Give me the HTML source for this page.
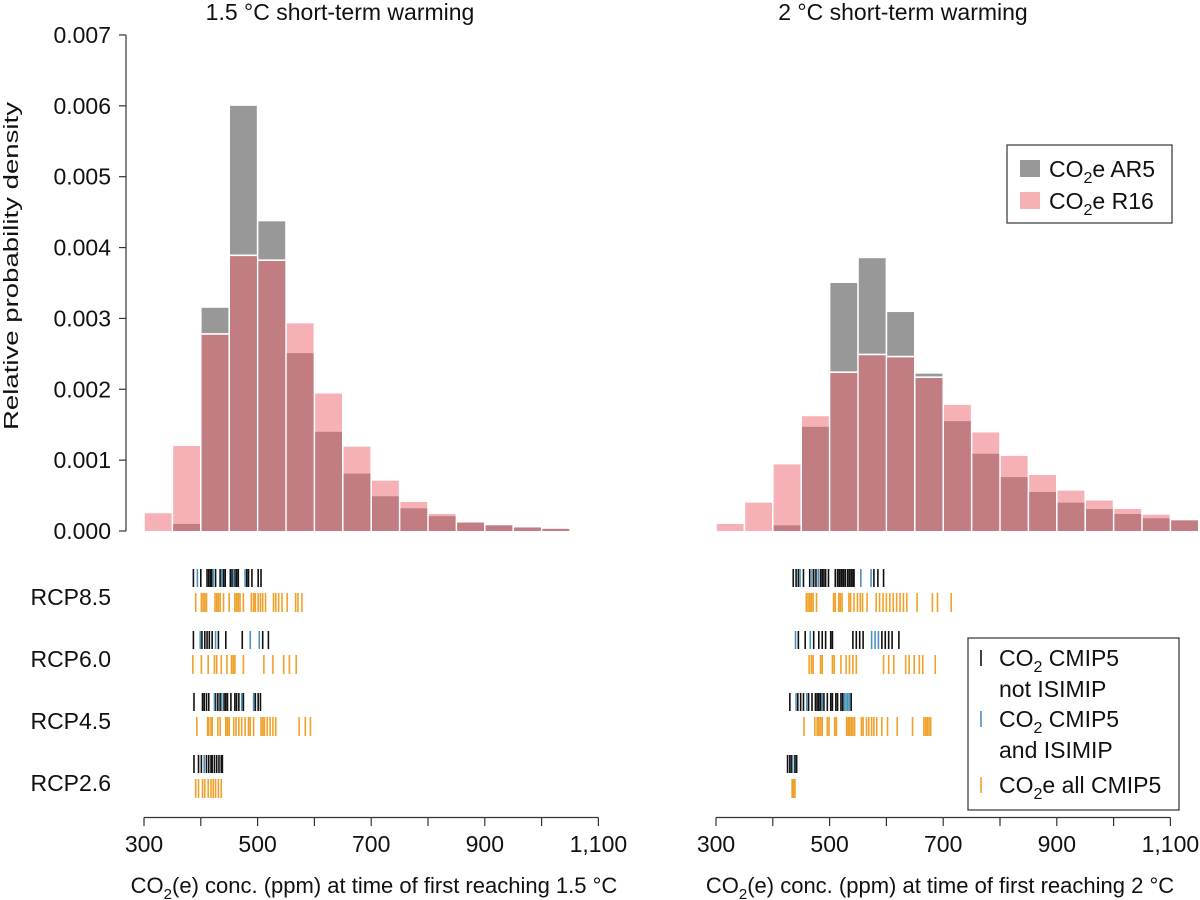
<!DOCTYPE html>
<html><head><meta charset="utf-8"><style>
body{margin:0;background:#fff}
svg{display:block;font-family:"Liberation Sans",Arial,sans-serif}
</style></head><body>
<svg id="c" width="1200" height="900" viewBox="0 0 1200 900" xmlns="http://www.w3.org/2000/svg"></svg>
<script>
const bins15 = [300,350,400,450,500,550,600,650,700,750,800,850,900,950,1000];
const ar5_15 = [0,0.0001,0.00315,0.0060,0.00437,0.00251,0.0014,0.00081,0.00049,0.00032,0.00021,0.00012,0.00008,0.00005,0.00003];
const r16_15 = [0.00025,0.0012,0.00277,0.00388,0.00381,0.00293,0.00194,0.00119,0.00071,0.00041,0.00024,0.00012,0.00008,0.00005,0.00003];
const bins2 = [300,350,400,450,500,550,600,650,700,750,800,850,900,950,1000,1050,1100];
const ar5_2 = [0,0,0.00008,0.00147,0.0035,0.00385,0.00309,0.00222,0.00155,0.00109,0.00076,0.00055,0.0004,0.00031,0.00024,0.00018,0.00015];
const r16_2 = [0.0001,0.0004,0.00094,0.00162,0.00223,0.00248,0.00245,0.00216,0.00178,0.00139,0.00106,0.00079,0.00057,0.00043,0.00031,0.00023,0.00015];
const yTicks = [0,0.001,0.002,0.003,0.004,0.005,0.006,0.007];
const yTickLabels = ["0.000","0.001","0.002","0.003","0.004","0.005","0.006","0.007"];
const xTicks = [300,400,500,600,700,800,900,1000,1100];
const xTickLabels = {300:"300",500:"500",700:"700",900:"900",1100:"1,100"};
const rcpNames = ["RCP8.5","RCP6.0","RCP4.5","RCP2.6"];
// left panel rugs
const L_black = [[387,400,411,414,417,419,426,434,440,443,452,455,460,463,466,481,484,490,501,506],[387,402,407,411,415,420,431,444,473,509,519],[388,403,406,410,414,426,430,434,441,444,447,453,460,463,467,475,496,501,505],[388,396,401,410,414,418,420,424,428,432,436,438]];
const L_blue = [[394,422,437,458,478],[399,426,487,503],[424,437,472,493],[406]];
const L_orange = [[391,401,404,407,410,425,428,431,434,440,450,460,463,466,469,475,489,493,496,501,505,509,514,528,532,537,543,552,567,571,578],[386,401,413,424,428,436,446,454,457,460,475,511,527,546,556,568],[393,412,414,418,420,430,434,444,447,450,458,462,467,472,478,484,487,493,506,509,512,517,522,527,532,573,584,593],[391,396,403,407,413,418,422,426,431,436]];
// right panel rugs
const R_black = [[436,441,445,454,465,472,476,484,487,490,493,498,510,514,517,520,522,525,528,532,535,538,541,543,578,585,595],[445,457,472,481,487,493,502,505,541,547,553,559,592,598,604,610,622],[430,444,449,454,463,469,475,478,481,484,490,496,502,505,511,514,520,523,538],[426,430,433,439,442]];
const R_blue = [[448,469,480,555,573],[440,466,574,580,586],[441,460,487,526,529,532,535],[435]];
const R_orange = [[459,462,465,468,471,477,507,510,516,519,522,534,537,543,549,554,558,566,582,588,594,600,606,612,618,624,630,636,654,681,690,714],[464,468,471,484,487,505,508,520,529,535,541,547,595,604,613,634,640,649,658,664,686],[455,474,478,481,484,487,496,499,509,512,530,533,535,538,541,544,556,559,565,569,574,578,583,592,602,619,646,666,669,672,675,678],[434,435,436,437,438,439]];

const NS="http://www.w3.org/2000/svg";
const svg=document.getElementById('c');
function el(t,a,p){const e=document.createElementNS(NS,t);for(const k in a)e.setAttribute(k,a[k]);(p||svg).appendChild(e);return e;}
const Y0=531, YPX=70.86/0.001;
function ys(v){return Y0-v*YPX;}
const PPX=0.568;
function xL(v){return 144+(v-300)*PPX;}
function xR(v){return 716+(v-300)*PPX;}
const GRAY="#989898",PINK="#f5b1b6",DARK="#c17d82";

function hist(bins,a,b,xs,name){
  const g=el('g',{});
  
  
  for(let i=0;i<bins.length;i++){
    const x0=xs(bins[i])+0.8, x1=xs(bins[i]+50)-0.8, w=x1-x0;
    const hi=Math.max(a[i],b[i]), lo=Math.min(a[i],b[i]);
    const r1=el('rect',{x:x0,y:ys(hi),width:w,height:Math.max(0,Y0-ys(hi)),fill:a[i]>b[i]?GRAY:PINK},g);
    
    
    if(lo>0){
      const r2=el('rect',{x:x0,y:ys(lo),width:w,height:Y0-ys(lo),fill:DARK},g);
      
      
      if(a[i]>b[i]+0.00002) el('line',{x1:x0,x2:x1,y1:ys(lo)-0.8,y2:ys(lo)-0.8,stroke:"#fff","stroke-width":1.6},g);
    }
  }
}
hist(bins15,ar5_15,r16_15,xL,'histogram-1-5');
hist(bins2,ar5_2,r16_2,xR,'histogram-2');

// y axis
const ya=el('g',{});


el('line',{x1:126,x2:126,y1:ys(0.007),y2:ys(0),stroke:"#333","stroke-width":1.2},ya);
yTicks.forEach((v,i)=>{
  el('line',{x1:119,x2:126,y1:ys(v),y2:ys(v),stroke:"#333","stroke-width":1.2},ya);
  const t=el('text',{x:111,y:ys(v)+8,"text-anchor":"end","font-size":23,fill:"#111"},ya);
  t.textContent=yTickLabels[i];
});
const yt=el('text',{x:0,y:0,transform:"translate(18,266) rotate(-90)","text-anchor":"middle","font-size":20,fill:"#111",textLength:328,lengthAdjust:"spacingAndGlyphs"});


yt.textContent="Relative probability density";

// titles
const t1=el('text',{x:340,y:20,"text-anchor":"middle","font-size":23,fill:"#111"});


t1.textContent="1.5 °C short-term warming";
const t2=el('text',{x:903,y:20,"text-anchor":"middle","font-size":23,fill:"#111"});


t2.textContent="2 °C short-term warming";

// x axes
function xaxis(xs,name,title,cx){
  const g=el('g',{});
  
  
  el('line',{x1:xs(300),x2:xs(1100),y1:817.5,y2:817.5,stroke:"#333","stroke-width":1.2},g);
  xTicks.forEach(v=>{
    el('line',{x1:xs(v),x2:xs(v),y1:817.5,y2:826,stroke:"#333","stroke-width":1.2},g);
    if(xTickLabels[v]){const t=el('text',{x:xs(v),y:852,"text-anchor":"middle","font-size":23,fill:"#111"},g);t.textContent=xTickLabels[v];}
  });
  const tt=el('text',{x:cx,y:893,"text-anchor":"middle","font-size":22,fill:"#111"},g);
  tt.innerHTML=title;
}
xaxis(xL,'x-axis-1-5','CO<tspan font-size="15" dy="6">2</tspan><tspan dy="-6">(e) conc. (ppm) at time of first reaching 1.5 °C</tspan>',374);
xaxis(xR,'x-axis-2','CO<tspan font-size="15" dy="6">2</tspan><tspan dy="-6">(e) conc. (ppm) at time of first reaching 2 °C</tspan>',940);

// rug
function rug(blk,blu,org,xs,name){
  const g=el('g',{});
  
  
  for(let i=0;i<4;i++){
    const yb=569+62*i, yo=593+62*i;
    blk[i].forEach(v=>el('line',{x1:xs(v),x2:xs(v),y1:yb,y2:yb+18,stroke:"#111","stroke-width":1.6},g));
    blu[i].forEach(v=>el('line',{x1:xs(v),x2:xs(v),y1:yb,y2:yb+18,stroke:"#4b93bd","stroke-width":1.6},g));
    org[i].forEach(v=>el('line',{x1:xs(v),x2:xs(v),y1:yo,y2:yo+19,stroke:"#f0a12a","stroke-width":1.6},g));
  }
}
rug(L_black,L_blue,L_orange,xL,'rug-1-5');
rug(R_black,R_blue,R_orange,xR,'rug-2');
rcpNames.forEach((n,i)=>{
  const t=el('text',{x:111,y:597+62*i+8,"text-anchor":"end","font-size":23,fill:"#111"});
  
  
  t.textContent=n;
});

// legend 1
const lg=el('g',{});


el('rect',{x:1007,y:145,width:165,height:78,fill:"#fff",stroke:"#333","stroke-width":1.2},lg);
el('rect',{x:1020,y:160,width:20,height:17,fill:GRAY},lg);
el('rect',{x:1020,y:192,width:20,height:17,fill:PINK},lg);
const la=el('text',{x:1049,y:177,"font-size":23,fill:"#111"},lg);
la.innerHTML='CO<tspan font-size="16" dy="6">2</tspan><tspan dy="-6">e AR5</tspan>';
const lb=el('text',{x:1049,y:209,"font-size":23,fill:"#111"},lg);
lb.innerHTML='CO<tspan font-size="16" dy="6">2</tspan><tspan dy="-6">e R16</tspan>';

// legend 2
const lg2=el('g',{});


el('rect',{x:968,y:638,width:211,height:172,fill:"#fff",stroke:"#333","stroke-width":1.2},lg2);
[["#111",658,'CO<tspan font-size="16" dy="6">2</tspan><tspan dy="-6"> CMIP5</tspan>',"not ISIMIP"],["#4b93bd",719,'CO<tspan font-size="16" dy="6">2</tspan><tspan dy="-6"> CMIP5</tspan>',"and ISIMIP"],["#f0a12a",785,'CO<tspan font-size="16" dy="6">2</tspan><tspan dy="-6">e all CMIP5</tspan>',null]].forEach(r=>{
  el('line',{x1:981,x2:981,y1:r[1]-8,y2:r[1]+8,stroke:r[0],"stroke-width":1.6},lg2);
  const t=el('text',{x:999,y:r[1]+8,"font-size":23,fill:"#111"},lg2);t.innerHTML=r[2];
  if(r[3]){const t2=el('text',{x:999,y:r[1]+39,"font-size":23,fill:"#111"},lg2);t2.textContent=r[3];}
});
</script>
</body></html>
